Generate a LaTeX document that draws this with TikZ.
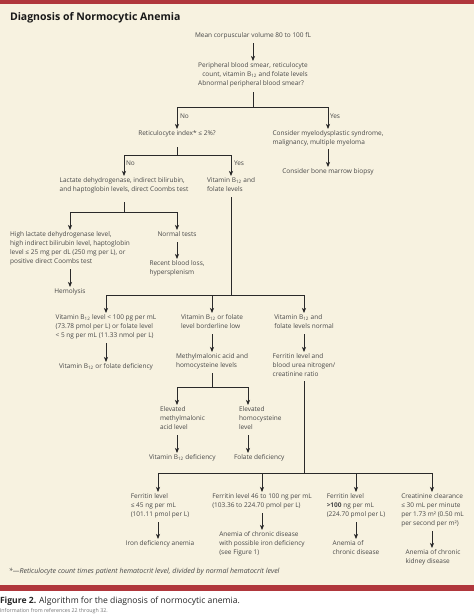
\documentclass[tikz,border=0pt]{standalone}
\usepackage{fontspec}
\setmainfont{Open Sans}
\usetikzlibrary{arrows.meta}
\definecolor{cream}{HTML}{F7F2E0}
\definecolor{redbar}{HTML}{B0373C}
\definecolor{txtc}{HTML}{474747}
\definecolor{linec}{HTML}{2A2A2A}
\newcommand\myst{\rule{0pt}{5pt}}
\newcommand\myed{\rule[-2pt]{0pt}{2pt}}
\newcommand\Btw{B\textsubscript{12}}
\begin{document}
\begin{tikzpicture}[x=1pt,y=-1pt,
  box/.style={inner sep=0pt, outer sep=0pt, text=txtc, font=\fontsize{6.5}{9}\selectfont},
  lbox/.style={box, align=left, anchor=north west},
  cbox/.style={box, align=left, anchor=north},
  lab/.style={box, anchor=north west},
  conn/.style={draw=linec, line width=0.75pt},
  arr/.style={conn, -{Stealth[length=5pt,width=4pt,inset=1.2pt]}, shorten >=1.7pt},
  sgap/.style={shorten <=#1},
]
\useasboundingbox (0,0) rectangle (474,614);
\fill[white] (0,0) rectangle (474,614);
\fill[cream] (0,4) rectangle (474,585);
\fill[redbar] (0,0) rectangle (474,4);
\fill[redbar] (0,585) rectangle (474,590.5);

\node[box, anchor=base west, font=\fontsize{10.5}{12}\selectfont\bfseries, text=black!90] (title) at (10,20.7) {Diagnosis of Normocytic Anemia};

% top
\node[cbox] (mcv) at (253,32.7) {\myst Mean corpuscular volume 80 to 100 fL\myed};
\node[box, align=right, anchor=north] (smear) at (253,62.7) {\myst Peripheral blood smear, reticulocyte\\count, vitamin \Btw{} and folate levels\myed};
\node[lbox] (abn) at ([yshift=-18pt]smear.north west) {\myst Abnormal peripheral blood smear?\myed};
\draw[arr, sgap=3.3pt] (mcv.south) -- (smear.north -| mcv.south);

\coordinate (j1) at (253,107);
\node[lab] (no1) at (180,113.7) {\myst No};
\node[lab] (yes1) at (330,113.7) {\myst Yes};
\node[cbox] (reti) at (177,130.7) {\myst Reticulocyte index* ≤ 2\%?\myed};
\node[cbox] (mds) at (328,130.7) {\myst Consider myelodysplastic syndrome,\\malignancy, multiple myeloma\myed};
\node[cbox] (bmb) at (328,168.7) {\myst Consider bone marrow biopsy\myed};
\draw[conn, sgap=4.3pt] (abn.south -| j1) -- (j1);
\draw[arr] (j1) -| (reti.north);
\draw[arr] (j1) -| (mds.north);
\draw[arr, sgap=2.3pt] (mds.south) -- (bmb.north);

% reticulocyte branch
\coordinate (j2) at (177,155);
\node[lab] (no2) at (126,160.7) {\myst No};
\node[lab] (yes2) at (234,160.7) {\myst Yes};
\node[cbox] (ldh) at (124,177.7) {\myst Lactate dehydrogenase, indirect bilirubin,\\and haptoglobin levels, direct Coombs test\myed};
\node[cbox] (vb) at (231,177.7) {\myst Vitamin \Btw{} and\\folate levels\myed};
\draw[conn, sgap=9.3pt] (reti.south) -- (j2);
\draw[arr] (j2) -| (ldh.north);
\draw[arr] (j2) -| (vb.north);

% hemolysis branch
\coordinate (j3) at (124,212);
\node[cbox] (high) at (70,231.7) {\myst High lactate dehydrogenase level,\\high indirect bilirubin level, haptoglobin\\level ≤ 25 mg per dL (250 mg per L), or\\positive direct Coombs test\myed};
\node[cbox] (normal) at (177,231.7) {\myst Normal tests\myed};
\node[cbox] (recent) at (177,260.7) {\myst Recent blood loss,\\hypersplenism\myed};
\node[cbox] (hemo) at (70,288.7) {\myst Hemolysis\myed};
\draw[conn, sgap=8.3pt] (ldh.south) -- (j3);
\draw[arr] (j3) -| (high.north);
\draw[arr] (j3) -| (normal.north);
\draw[arr, sgap=3.3pt] (normal.south) -- (recent.north);
\draw[arr, sgap=3.3pt] (high.south) -- (hemo.north);

% vitamin branch
\coordinate (j4) at (231,295);
\node[cbox] (low) at (106,314.7) {\myst Vitamin \Btw{} level < 100 pg per mL\\(73.78 pmol per L) or folate level\\< 5 ng per mL (11.33 nmol per L)\myed};
\node[cbox] (border) at (212,314.7) {\myst Vitamin \Btw{} or folate\\level borderline low\myed};
\node[cbox] (normb) at (304,314.7) {\myst Vitamin \Btw{} and\\folate levels normal\myed};
\draw[conn, sgap=3.3pt] (vb.south) -- (j4);
\draw[arr] (j4) -| (low.north);
\draw[arr] (j4) -| (normb.north);
\draw[arr] (border.north |- j4) -- (border.north);

\node[cbox] (def) at (106,363.7) {\myst Vitamin \Btw{} or folate deficiency\myed};
\node[cbox] (mma) at (212,353.7) {\myst Methylmalonic acid and\\homocysteine levels\myed};
\node[cbox] (ferr) at (304,353.7) {\myst Ferritin level and\\blood urea nitrogen/\\creatinine ratio\myed};
\draw[arr, sgap=3.3pt] (low.south) -- (def.north);
\draw[arr, sgap=3.3pt] (border.south) -- (mma.north);
\draw[arr, sgap=3.3pt] (normb.south) -- (ferr.north);

% methylmalonic branch
\coordinate (j5) at (212,387);
\coordinate (ca) at (177,387);
\coordinate (cb) at (248,387);
\node[lbox] (emma) at (160,406.7) {\myst Elevated\\methylmalonic\\acid level\myed};
\node[lbox] (ehc) at (239,406.7) {\myst Elevated\\homocysteine\\level\myed};
\node[lbox] (b12def) at (149,454.7) {\myst Vitamin \Btw{} deficiency\myed};
\node[lbox] (foldef) at (234,454.7) {\myst Folate deficiency\myed};
\draw[conn, sgap=3.3pt] (mma.south) -- (j5);
\draw[arr] (j5) -| (emma.north -| ca);
\draw[arr] (j5) -| (ehc.north -| cb);
\draw[arr, sgap=3.3pt] (emma.south -| ca) -- (b12def.north -| ca);
\draw[arr, sgap=3.3pt] (ehc.south -| cb) -- (foldef.north -| cb);

% ferritin branch
\coordinate (j6) at (304,473);
\coordinate (cf1) at (158,473);
\coordinate (cf4) at (432,473);
\node[cbox] (f45) at (160,493.7) {\myst Ferritin level\\≤ 45 ng per mL\\(101.11 pmol per L)\myed};
\node[cbox] (f46) at (262,493.7) {\myst Ferritin level 46 to 100 ng per mL\\(103.36 to 224.70 pmol per L)\myed};
\node[cbox] (f100) at (356,493.7) {\myst Ferritin level\\ \textbf{>100} ng per mL\\(224.70 pmol per L)\myed};
\node[cbox] (crea) at (432.5,493.7) {\myst Creatinine clearance\\≤ 30 mL per minute\\per 1.73 m² (0.50 mL\\per second per m²)\myed};
\draw[conn, sgap=2.3pt] (ferr.south) -- (j6);
\draw[arr] (j6) -| (f45.north -| cf1);
\draw[arr] (j6) -| (crea.north -| cf4);
\draw[arr] (f46.north |- j6) -- (f46.north);
\draw[arr] (f100.north |- j6) -- (f100.north);

\node[cbox] (ida) at (160,540.7) {\myst Iron deficiency anemia\myed};
\node[cbox] (acdi) at (262,531.7) {\myst Anemia of chronic disease\\with possible iron deficiency\\(see Figure 1)\myed};
\node[cbox] (acd) at (356,540.7) {\myst Anemia of\\chronic disease\myed};
\node[cbox] (ckd) at (433,549.7) {\myst Anemia of chronic\\kidney disease\myed};
\draw[arr, sgap=3.3pt] (f45.south -| cf1) -- (ida.north -| cf1);
\draw[arr, sgap=3.3pt] (f46.south) -- (acdi.north);
\draw[arr, sgap=3.3pt] (f100.south) -- (acd.north);
\draw[arr, sgap=3.3pt] (crea.south -| cf4) -- (ckd.north -| cf4);

% footnote and caption
\node[lbox, font=\fontsize{7}{8}\selectfont\itshape] (foot) at (9,567.7) {\myst *—Reticulocyte count times patient hematocrit level, divided by normal hematocrit level};
\node[box, anchor=base west, text=black!85, font=\fontsize{8.6}{10}\selectfont] (cap) at (0,603.3) {\textbf{Figure 2.} Algorithm for the diagnosis of normocytic anemia.};
\node[box, anchor=base west, text=black!55, font=\fontsize{5.3}{7}\selectfont] (info) at (0,612.6) {Information from references 22 through 32.};
\end{tikzpicture}
\end{document}
